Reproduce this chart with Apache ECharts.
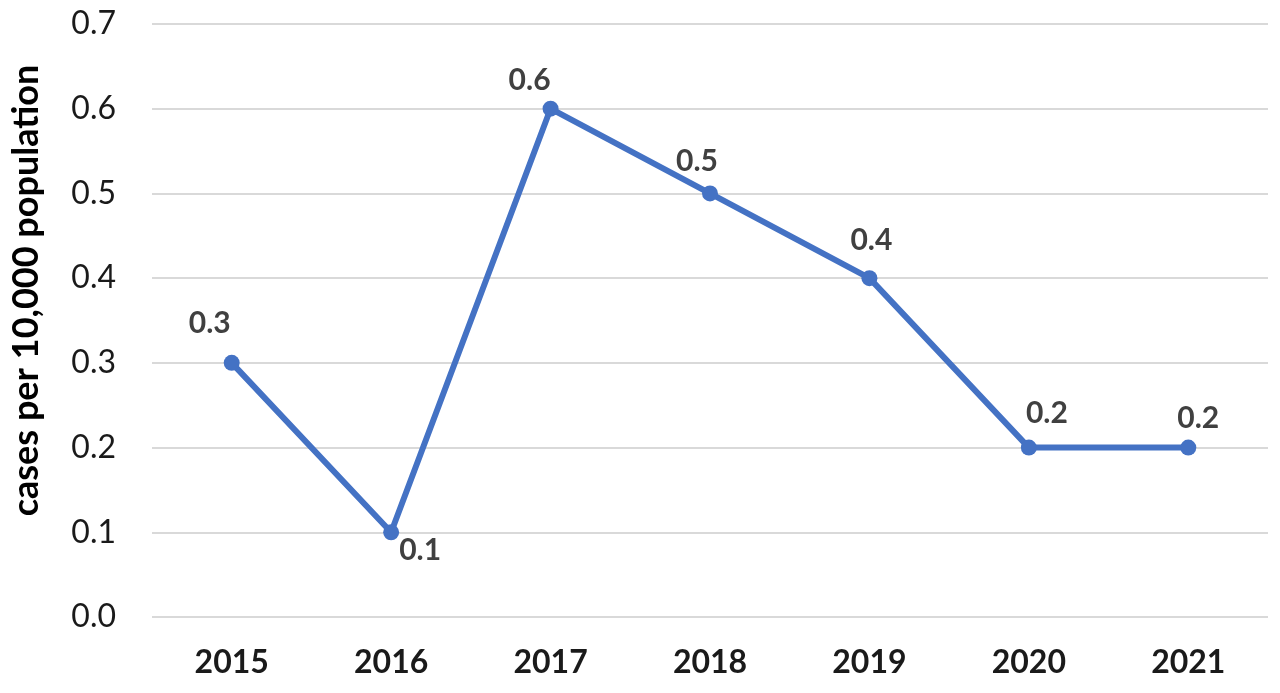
<!DOCTYPE html>
<html>
<head>
<meta charset="utf-8">
<script src="https://cdn.jsdelivr.net/npm/echarts@6/dist/echarts.min.js"></script>
<style>html,body{margin:0;padding:0;background:#fff}#c{width:1280px;height:693px}</style>
</head>
<body>
<div id="c"></div>
<script>
const years = ['2015','2016','2017','2018','2019','2020','2021'];
const cases = [0.3, 0.1, 0.6, 0.5, 0.4, 0.2, 0.2];
const yAxisTitle = 'cases per 10,000 population';

const labelOffsets = [[-22,-40],[29,18],[-21,-28],[-13,-32],[2,-38],[18,-34],[10,-29]];
const FONT = 'Lato, "Open Sans", sans-serif';

const chart = echarts.init(document.getElementById('c'));
chart.setOption({
  animation: false,
  grid: { left: 150, right: 12, top: 24, bottom: 76 },
  xAxis: {
    type: 'category',
    data: years,
    boundaryGap: true,
    axisLine: { show: false },
    axisTick: { show: false },
    axisLabel: { margin: 30, fontSize: 32, fontWeight: 'bold', color: '#1a1a1a', fontFamily: FONT }
  },
  yAxis: {
    type: 'value',
    min: 0, max: 0.7, interval: 0.1,
    name: yAxisTitle,
    nameLocation: 'middle',
    nameGap: 108,
    nameTextStyle: { fontSize: 36, fontWeight: 'bold', color: '#000', fontFamily: FONT, padding: [0, 0, 0, 60] },
    axisLine: { show: false },
    axisTick: { show: false },
    splitLine: { lineStyle: { color: '#d9d9d9', width: 2 } },
    axisLabel: { margin: 36, fontSize: 32, color: '#1a1a1a', fontFamily: FONT,
      formatter: v => v.toFixed(1) }
  },
  series: [{
    type: 'line',
    data: cases.map((v, i) => ({
      value: v,
      label: { offset: labelOffsets[i] }
    })),
    symbol: 'circle',
    symbolSize: 16,
    itemStyle: { color: '#4472C4' },
    lineStyle: { color: '#4472C4', width: 6 },
    label: {
      show: true,
      position: 'inside',
      fontSize: 30,
      fontWeight: 'bold',
      color: '#404040',
      fontFamily: FONT,
      formatter: p => p.value.toFixed(1)
    }
  }]
});
</script>
</body>
</html>
